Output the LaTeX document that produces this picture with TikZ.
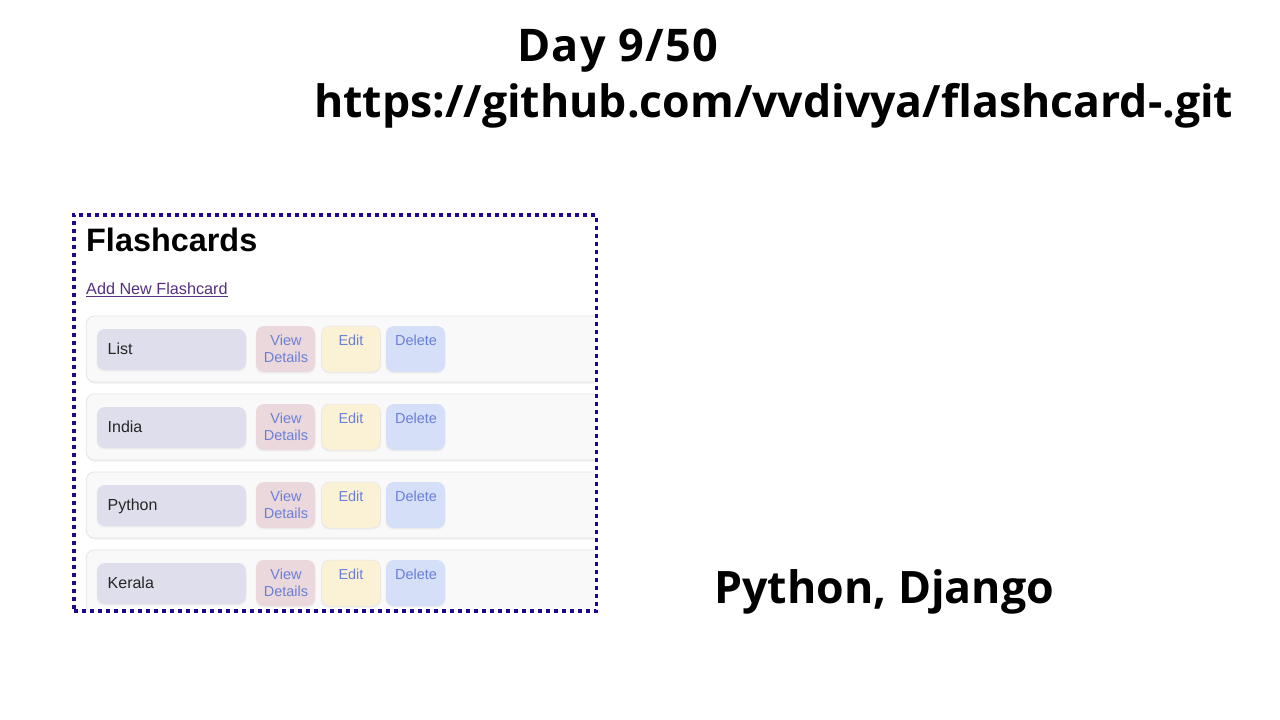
\documentclass[tikz,border=0pt]{standalone}
\usepackage{fontspec}
\setmainfont{Liberation Sans}
\newfontfamily\titlefont{Open Sans}
\definecolor{frameblue}{HTML}{1B0A8F}
\definecolor{linkblue}{HTML}{6A80D6}
\definecolor{linkvis}{HTML}{54307F}
\definecolor{namebg}{HTML}{DEDEEC}
\definecolor{viewbg}{HTML}{EBD8DC}
\definecolor{editbg}{HTML}{FBF2D6}
\definecolor{delbg}{HTML}{D5DFF8}
\definecolor{cardbg}{HTML}{F9F9F9}
\definecolor{cardline}{HTML}{E4E4E4}
\definecolor{shadowc}{HTML}{EFEFEF}
\tikzset{
  title/.style={font=\titlefont\bfseries\fontsize{45}{50}\selectfont,text=black,inner sep=0pt,anchor=base west},
  namebox/.style={fill=namebg,rounded corners=8pt,minimum width=149pt,minimum height=41pt,inner sep=0pt,outer sep=0pt,anchor=north west},
  btn/.style={rounded corners=8pt,minimum width=59pt,minimum height=46pt,inner sep=0pt,outer sep=0pt,anchor=north west},
  btnlabel/.style={font=\fontsize{14.5}{17}\selectfont,text=linkblue,align=center,inner sep=0pt,anchor=base},
  cardtxt/.style={font=\fontsize{16}{18}\selectfont,text=black!85,inner sep=0pt,anchor=base west},
}
\newcommand{\softshadow}[4]{%
  \fill[shadowc,rounded corners=8pt] (#1-.5,#2) rectangle (#3+.5,#4+1.5);
}
\newcommand{\flashcard}[3]{%
  % #1 id, #2 top y, #3 label
  \fill[shadowc,rounded corners=8pt] (87,#2+2) rectangle (640,#2+67.5);
  \node[draw=cardline,fill=cardbg,rounded corners=8pt,minimum width=554pt,minimum height=66pt,inner sep=0pt,outer sep=0pt,anchor=north west,line width=.8pt] (card#1) at (86.3,#2) {};
  \softshadow{97}{#2+14}{246}{#2+54}
  \node[namebox] (name#1) at (97,#2+13) {};
  \node[cardtxt] (text#1) at (107.5,#2+38) {#3};
  \softshadow{256}{#2+12}{315}{#2+56}
  \node[btn,fill=viewbg] (view#1) at (256,#2+10) {};
  \node[btnlabel] (viewa#1) at (286,#2+29.5) {View};
  \node[btnlabel] (viewb#1) at (286,#2+46.5) {Details};
  \softshadow{321.5}{#2+12}{380.5}{#2+56}
  \node[btn,fill=editbg,draw=black!10,line width=.5pt] (edit#1) at (321.5,#2+10) {};
  \node[btnlabel] (edita#1) at (351,#2+29.5) {Edit};
  \softshadow{386}{#2+12}{445}{#2+56}
  \node[btn,fill=delbg] (del#1) at (386,#2+10) {};
  \node[btnlabel] (dela#1) at (416,#2+29.5) {Delete};
}
\begin{document}
\begin{tikzpicture}[x=1pt,y=-1pt]
\useasboundingbox (0,0) rectangle (1280,720);
\fill[white] (0,0) rectangle (1280,720);
\node[title] (day) at (517,61) {\addfontfeature{LetterSpace=2.8}Day 9/50};
\node[title,font=\titlefont\bfseries\fontsize{44.6}{50}\selectfont] (url) at (314,117) {https://github.com/vvdivya/flashcard-.git};
\node[title,font=\titlefont\bfseries\fontsize{44.7}{50}\selectfont] (tech) at (714,603) {Python, Django};
\begin{scope}
  \clip (76,216) rectangle (594.5,609.5);
  \node[font=\bfseries\fontsize{32.4}{36}\selectfont,inner sep=0pt,anchor=base west] (heading) at (86,251) {Flashcards};
  \node[font=\fontsize{16.2}{18}\selectfont,text=linkvis,inner sep=0pt,anchor=base west] (addlink) at (86,294.5) {\underline{Add New Flashcard}};
  \flashcard{a}{316}{List}
  \flashcard{b}{394}{India}
  \flashcard{c}{472}{Python}
  \flashcard{d}{550}{Kerala}
\end{scope}
\node[draw=frameblue,line width=3.8pt,dash pattern=on 4pt off 4pt,minimum width=522.5pt,minimum height=396.3pt,inner sep=0pt,outer sep=0pt,anchor=north west] (frame) at (74,214.7) {};
\end{tikzpicture}
\end{document}
